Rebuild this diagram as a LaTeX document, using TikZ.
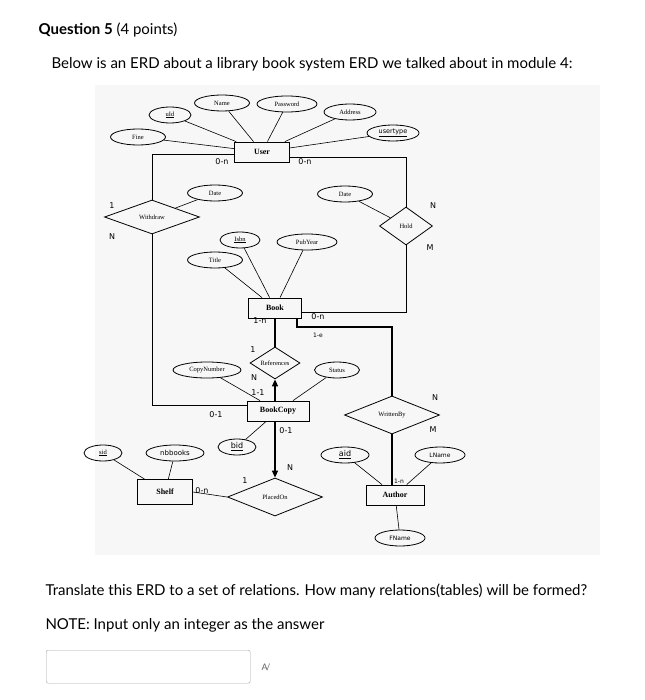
\documentclass[tikz,border=0pt]{standalone}
\usepackage{fontspec}
\setmainfont{Lato}
\newfontfamily\serf{Liberation Serif}
\newfontfamily\hand{DejaVu Sans}
\usetikzlibrary{shapes.geometric,arrows.meta}
\tikzset{
 ent/.style={draw,thick,rectangle,minimum width=#1,minimum height=20pt,inner sep=1pt,font=\serf\bfseries\fontsize{8}{9}\selectfont},
 ent/.default=55pt,
 att/.style={draw,thick,ellipse,minimum width=#1,minimum height=16pt,inner sep=0pt,font=\serf\fontsize{6.5}{7}\selectfont},
 att/.default=52pt,
 rel/.style={draw,thick,diamond,aspect=2.6,minimum width=#1,minimum height=34pt,inner sep=0pt,font=\serf\fontsize{6.5}{7}\selectfont},
 rel/.default=95pt,
 lbl/.style={font=\hand\fontsize{8}{9}\selectfont,inner sep=0pt},
 ln/.style={draw,semithick},
 tk/.style={draw,line width=1.5pt},
 big/.style={anchor=west,font=\fontsize{15}{17}\selectfont}
}
\begin{document}
\begin{tikzpicture}[x=1pt,y=-1pt]
\fill[white] (0,0) rectangle (644,700);
\fill[black!3] (95,85) rectangle (600,555);
\node[big] (q) at (35,30) {\textbf{Question 5} (4 points)};
\node[big] (b) at (48,64) {Below is an ERD about a library book system ERD we talked about in module 4:};
% entities
\node[ent=55pt] (user) at (262,152) {User};
\node[ent=53pt] (book) at (275,308) {Book};
\node[ent=62pt] (copy) at (278,411) {BookCopy};
\node[ent=55pt,minimum height=25pt] (shelf) at (165,492) {Shelf};
\node[ent=58pt] (author) at (395,495) {Author};
% attributes
\node[att=55pt] (fine) at (138,137) {Fine};
\node[att=42pt] (uid) at (170,115) {\underline{uId}};
\node[att=55pt] (name) at (222,103) {Name};
\node[att=60pt] (pw) at (287,104) {Password};
\node[att=52pt] (addr) at (350,112) {Address};
\node[att=52pt] (utype) at (393,133) {\hand\underline{usertype}};
\node[att=55pt] (date1) at (215,193) {Date};
\node[att=55pt] (date2) at (345,194) {Date};
\node[att=40pt] (isbn) at (240,240) {\underline{Isbn}};
\node[att=55pt] (title) at (215,260) {Title};
\node[att=60pt] (pub) at (307,242) {PubYear};
\node[att=68pt] (cn) at (207,370) {CopyNumber};
\node[att=45pt] (status) at (337,370) {Status};
\node[att=38pt,font=\hand\fontsize{8}{9}\selectfont] (bid) at (237,447) {\underline{bid}};
\node[att=38pt] (sid) at (103,453) {\underline{sid}};
\node[att=58pt,font=\hand\fontsize{7}{8}\selectfont] (nb) at (175,453) {nbbooks};
\node[att=48pt,font=\hand\fontsize{8}{9}\selectfont] (aid) at (345,455) {\underline{aid}};
\node[att=50pt,font=\hand\fontsize{6}{7}\selectfont] (lname) at (440,455) {LName};
\node[att=50pt,font=\hand\fontsize{6}{7}\selectfont] (fname) at (400,538) {FName};
% relationships
\node[rel=95pt] (wd) at (152,217) {Withdraw};
\node[rel=53pt,aspect=1.4,minimum height=38pt] (hold) at (406,226) {Hold};
\node[rel=50pt,aspect=1.5,minimum height=32pt] (refs) at (275,363) {References};
\node[rel=95pt,minimum height=38pt] (wb) at (392,415) {WrittenBy};
\node[rel=95pt,minimum height=38pt] (po) at (275,497) {PlacedOn};
% attribute lines
\foreach \a in {fine,uid,name,pw,addr,utype} \draw[ln] (\a) -- (user);
\foreach \a in {isbn,title,pub} \draw[ln] (\a) -- (book);
\foreach \a in {cn,status,bid} \draw[ln] (\a) -- (copy);
\foreach \a in {sid,nb} \draw[ln] (\a) -- (shelf);
\foreach \a in {aid,lname,fname} \draw[ln] (\a) -- (author);
\draw[ln] (date1) -- (wd);
\draw[ln] (date2) -- (hold);
% relationship lines
\draw[ln] (user.west |- 0,154) -- (152,154) -- (wd.north);
\draw[ln] (wd.south) -- (152,405) -- (copy.west |- 0,405);
\draw[ln] (user.east |- 0,157) -- (406,157) -- (hold.north);
\draw[ln] (hold.south) -- (406,312) -- (book.east |- 0,312);
\draw[tk] (297,318) -- (297,327) -- (392,327) -- (wb.north);
\draw[tk] (wb.south) -- (author.north -| wb.south);
\draw[tk] (book.south -| refs.north) -- (refs.north);
\draw[tk,-{Triangle[length=7pt,width=6pt]}] (copy.north -| refs.south) -- (refs.south);
\draw[tk,-{Triangle[length=7pt,width=6pt]}] (copy.south -| po.north) -- (po.north);
\draw[ln] (shelf.east) -- (po.west);
% cardinality labels
\node[lbl] (l1) at (222,162) {0-n};
\node[lbl] (l2) at (305,162) {0-n};
\node[lbl] (l3) at (112,206) {1};
\node[lbl] (l4) at (112,237) {N};
\node[lbl] (l5) at (433,206) {N};
\node[lbl] (l6) at (430,248) {M};
\node[lbl] (l7) at (260,321) {1-n};
\node[lbl] (l8) at (318,317) {0-n};
\node[lbl] (l9) at (318,335) {\fontsize{6}{7}\selectfont 1-e};
\node[lbl] (l10) at (253,350) {1};
\node[lbl] (l11) at (254,378) {N};
\node[lbl] (l12) at (258,393) {1-1};
\node[lbl] (l13) at (216,415) {0-1};
\node[lbl] (l14) at (286,431) {0-1};
\node[lbl] (l15) at (290,468) {N};
\node[lbl] (l16) at (245,481) {1};
\node[lbl] (l17) at (202,491) {0-n};
\node[lbl] (l18) at (435,398) {N};
\node[lbl] (l19) at (433,430) {M};
\node[lbl] (l20) at (399,481) {\fontsize{6}{7}\selectfont 1-n};
% bottom text
\node[big] (t1) at (42,591) {Translate this ERD to a set of relations. How many relations(tables) will be formed?};
\node[big] (t2) at (42,625) {NOTE: Input only an integer as the answer};
\node[draw=black!35,rounded corners=2pt,minimum width=204pt,minimum height=33pt,anchor=north west] (box) at (46,650) {};
\node[font=\fontsize{9}{10}\selectfont,text=black!60] (ic) at (266,667) {A\!/};
\end{tikzpicture}
\end{document}
